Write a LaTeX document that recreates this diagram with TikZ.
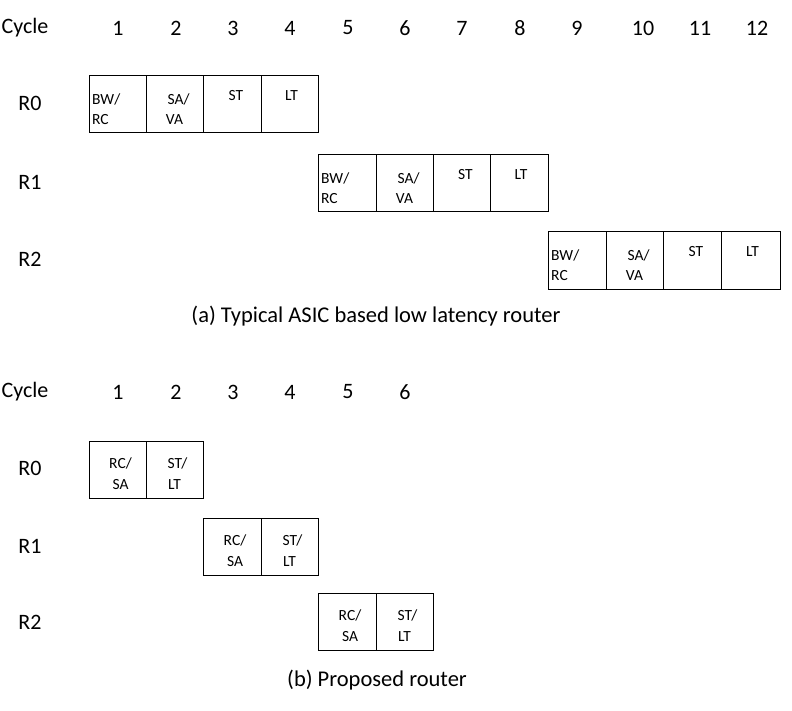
\documentclass[tikz,border=0pt]{standalone}
\usepackage{fontspec}
\setmainfont{Carlito}
\begin{document}
\begin{tikzpicture}[x=1pt,y=-1pt,
  lab/.style={font=\fontsize{22}{26}\selectfont},
  captxt/.style={font=\fontsize{22.5}{26}\selectfont},
  t/.style={font=\fontsize{15.5}{18}\selectfont,inner sep=0pt}]
\useasboundingbox (0,0) rectangle (792,711);
\node[lab] (cyA) at (25,28) {Cycle};
\foreach \n/\x in {1/118,2/176,3/233,4/290,5/348,6/405,7/462,8/520,9/577,10/643,11/700,12/757}
  \node[lab] (ca\n) at (\x,28) {\n};
\foreach \r/\y in {0/103,1/182,2/259} \node[lab] (ra\r) at (30,\y) {R\r};
% (a) pipelines
\foreach \r/\a/\b/\c/\d/\e/\yt in {0/89/146/203/261/318/76,1/318/376/433/490/548/155,2/548/606/663/721/780/232}{
  \draw[line width=1pt] (\a,\yt) rectangle (\e,\yt+57);
  \foreach \s in {\b,\c,\d} \draw[line width=1pt] (\s,\yt) -- (\s,\yt+57);
  \node[t,anchor=west] at (\a+3,\yt+23) {BW/};
  \node[t,anchor=west] at (\a+3,\yt+44) {RC};
  \node[t] at ({(\b+\c)/2+4},\yt+23) {SA/};
  \node[t] at ({(\b+\c)/2},\yt+44) {VA};
  \node[t] at ({(\c+\d)/2+4},\yt+20) {ST};
  \node[t] at ({(\d+\e)/2+2},\yt+20) {LT};
}
\node[captxt] (capA) at (376,316) {(a) Typical ASIC based low latency router};
% (b)
\node[lab] (cyB) at (25,392) {Cycle};
\foreach \n/\x in {1/118,2/176,3/233,4/290,5/348,6/405}
  \node[lab] (cb\n) at (\x,392) {\n};
\foreach \r/\y in {0/468,1/546,2/622} \node[lab] (rb\r) at (30,\y) {R\r};
\foreach \a/\b/\e/\yt in {89/146/203/441,203/261/318/518,318/376/433/593}{
  \draw[line width=1pt] (\a,\yt) rectangle (\e,\yt+57);
  \draw[line width=1pt] (\b,\yt) -- (\b,\yt+57);
  \node[t] at ({(\a+\b)/2+3},\yt+22) {RC/};
  \node[t] at ({(\a+\b)/2+3},\yt+44) {SA};
  \node[t] at ({(\b+\e)/2+3},\yt+22) {ST/};
  \node[t] at ({(\b+\e)/2},\yt+44) {LT};
}
\node[captxt] (capB) at (377,680) {(b) Proposed router};
\end{tikzpicture}
\end{document}
